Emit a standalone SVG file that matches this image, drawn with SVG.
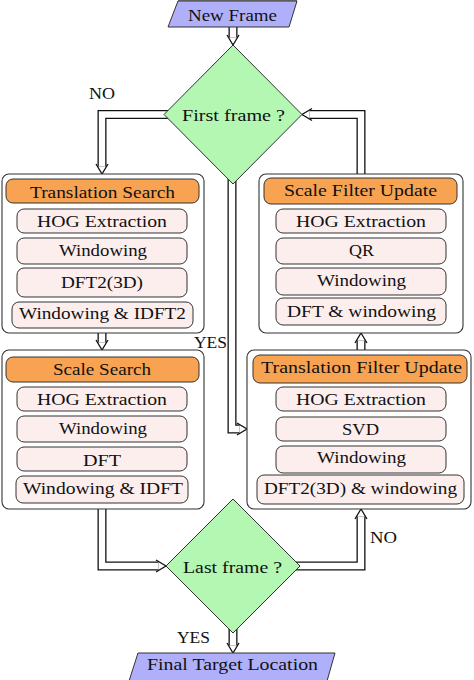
<svg xmlns="http://www.w3.org/2000/svg" width="474" height="680" viewBox="0 0 474 680" font-family="'Liberation Serif', 'DejaVu Serif', 'Times New Roman', serif">
<style>
text{font-family:'Liberation Serif','DejaVu Serif','Times New Roman',serif;font-size:17.5px;fill:#111;text-anchor:middle}
.lbl{text-anchor:start}
.io{fill:#B0B0FA;stroke:#333;stroke-width:1}
.dec{fill:#B3F7B3;stroke:#333;stroke-width:1}
.grp{fill:#fff;stroke:#333;stroke-width:1.1}
.hdr{fill:#F8A352;stroke:#333;stroke-width:1}
.step{fill:#FDEEEE;stroke:#333;stroke-width:1}
.co{fill:none;stroke:#111;stroke-width:9;stroke-linejoin:miter}
.ci{fill:none;stroke:#fff;stroke-width:6.4;stroke-linejoin:miter}
</style>
<defs>
<marker id="ah" markerUnits="userSpaceOnUse" viewBox="-11 -7 12 14" markerWidth="12" markerHeight="14" refX="-7.5" refY="0" orient="auto" overflow="visible">
<path d="M -10 -6 L 0 0 L -10 6" fill="none" stroke="#111" stroke-width="1.3"/>
</marker>
</defs>
<g id="connectors">
<path class="co" marker-end="url(#ah)" d="M 233 22 V 37.5"/><path class="ci" d="M 233 22 V 37.5"/>
<path class="co" marker-end="url(#ah)" d="M 172 114.5 H 102 V 166.5"/><path class="ci" d="M 172 114.5 H 102 V 166.5"/>
<path class="co" marker-end="url(#ah)" d="M 232 175 V 429 H 239.5"/><path class="ci" d="M 232 175 V 429 H 239.5"/>
<path class="co" marker-end="url(#ah)" d="M 102 329 V 342.5"/><path class="ci" d="M 102 329 V 342.5"/>
<path class="co" marker-end="url(#ah)" d="M 102 505 V 566 H 158.5"/><path class="ci" d="M 102 505 V 566 H 158.5"/>
<path class="co" marker-end="url(#ah)" d="M 290 566 H 361 V 516.5"/><path class="ci" d="M 290 566 H 361 V 516.5"/>
<path class="co" marker-end="url(#ah)" d="M 361 354 V 340.5"/><path class="ci" d="M 361 354 V 340.5"/>
<path class="co" marker-end="url(#ah)" d="M 361 178 V 114.5 H 309.5"/><path class="ci" d="M 361 178 V 114.5 H 309.5"/>
<path class="co" marker-end="url(#ah)" d="M 233 625 V 645.5"/><path class="ci" d="M 233 625 V 645.5"/>
</g>
<g id="new-frame">
<rect x="178" y="0" width="119" height="2" fill="#888"/>
<polygon class="io" points="178,1 297,1 289,27 168,27"/>
<text x="232.5" y="21" textLength="89" lengthAdjust="spacingAndGlyphs">New Frame</text>
</g>
<g id="first-frame">
<polygon class="dec" points="233,45 302,114.5 233,184 164,114.5"/>
<text x="233.5" y="120.5" textLength="103" lengthAdjust="spacingAndGlyphs">First frame ?</text>
</g>
<text class="lbl" x="89" y="99" textLength="26" lengthAdjust="spacingAndGlyphs">NO</text>
<text class="lbl" x="194" y="348" textLength="33" lengthAdjust="spacingAndGlyphs">YES</text>
<text class="lbl" x="370" y="543" textLength="27" lengthAdjust="spacingAndGlyphs">NO</text>
<text class="lbl" x="177" y="643" textLength="33" lengthAdjust="spacingAndGlyphs">YES</text>
<g id="translation-search">
<rect class="grp" x="2" y="174" width="202" height="159" rx="7"/>
<rect class="hdr" x="6" y="179" width="193" height="24" rx="7"/>
<text x="102.5" y="198" textLength="145" lengthAdjust="spacingAndGlyphs">Translation Search</text>
<rect class="step" x="17" y="209" width="170" height="24" rx="7"/>
<text x="102" y="227" textLength="130" lengthAdjust="spacingAndGlyphs">HOG Extraction</text>
<rect class="step" x="17" y="238" width="170" height="26" rx="7"/>
<text x="103" y="256" textLength="88" lengthAdjust="spacingAndGlyphs">Windowing</text>
<rect class="step" x="17" y="268" width="170" height="29" rx="7"/>
<text x="102" y="288" textLength="82" lengthAdjust="spacingAndGlyphs">DFT2(3D)</text>
<rect class="step" x="12" y="302" width="181" height="26" rx="7"/>
<text x="102.5" y="319" textLength="167" lengthAdjust="spacingAndGlyphs">Windowing &amp; IDFT2</text>
</g>
<g id="scale-search">
<rect class="grp" x="2" y="350" width="202" height="159" rx="7"/>
<rect class="hdr" x="6" y="357" width="193" height="25" rx="7"/>
<text x="102" y="375" textLength="98" lengthAdjust="spacingAndGlyphs">Scale Search</text>
<rect class="step" x="17" y="387" width="170" height="24" rx="7"/>
<text x="102" y="405" textLength="130" lengthAdjust="spacingAndGlyphs">HOG Extraction</text>
<rect class="step" x="17" y="416" width="170" height="26" rx="7"/>
<text x="103" y="434" textLength="88" lengthAdjust="spacingAndGlyphs">Windowing</text>
<rect class="step" x="17" y="447" width="170" height="24" rx="7"/>
<text x="102" y="466" textLength="38" lengthAdjust="spacingAndGlyphs">DFT</text>
<rect class="step" x="16" y="476" width="172" height="27" rx="7"/>
<text x="103" y="494" textLength="160" lengthAdjust="spacingAndGlyphs">Windowing &amp; IDFT</text>
</g>
<g id="scale-filter-update">
<rect class="grp" x="259" y="174" width="204" height="159" rx="7"/>
<rect class="hdr" x="264" y="178" width="193" height="26" rx="7"/>
<text x="360.5" y="196" textLength="153" lengthAdjust="spacingAndGlyphs">Scale Filter Update</text>
<rect class="step" x="276" y="209" width="170" height="24" rx="7"/>
<text x="361" y="227" textLength="130" lengthAdjust="spacingAndGlyphs">HOG Extraction</text>
<rect class="step" x="276" y="238" width="170" height="26" rx="7"/>
<text x="361.5" y="256" textLength="25" lengthAdjust="spacingAndGlyphs">QR</text>
<rect class="step" x="276" y="268" width="170" height="27" rx="7"/>
<text x="361.5" y="286" textLength="89" lengthAdjust="spacingAndGlyphs">Windowing</text>
<rect class="step" x="276" y="298" width="170" height="27" rx="7"/>
<text x="361.5" y="317" textLength="149" lengthAdjust="spacingAndGlyphs">DFT &amp; windowing</text>
</g>
<g id="translation-filter-update">
<rect class="grp" x="247" y="350" width="224" height="159" rx="7"/>
<rect class="hdr" x="253" y="355" width="214" height="28" rx="7"/>
<text x="361.5" y="373" textLength="201" lengthAdjust="spacingAndGlyphs">Translation Filter Update</text>
<rect class="step" x="276" y="387" width="170" height="24" rx="7"/>
<text x="361" y="405" textLength="130" lengthAdjust="spacingAndGlyphs">HOG Extraction</text>
<rect class="step" x="276" y="417" width="170" height="24" rx="7"/>
<text x="360.5" y="435" textLength="37" lengthAdjust="spacingAndGlyphs">SVD</text>
<rect class="step" x="276" y="446" width="170" height="27" rx="7"/>
<text x="361.5" y="463" textLength="89" lengthAdjust="spacingAndGlyphs">Windowing</text>
<rect class="step" x="257" y="475" width="207" height="29" rx="7"/>
<text x="360.5" y="494" textLength="193" lengthAdjust="spacingAndGlyphs">DFT2(3D) &amp; windowing</text>
</g>
<g id="last-frame">
<polygon class="dec" points="233,499 300,566 233,633 166,566"/>
<text x="232.5" y="573" textLength="99" lengthAdjust="spacingAndGlyphs">Last frame ?</text>
</g>
<g id="final-target-location">
<polygon class="io" points="138,653 335,653 327,681 129,681"/>
<text x="232.5" y="670" textLength="171" lengthAdjust="spacingAndGlyphs">Final Target Location</text>
</g>
</svg>
